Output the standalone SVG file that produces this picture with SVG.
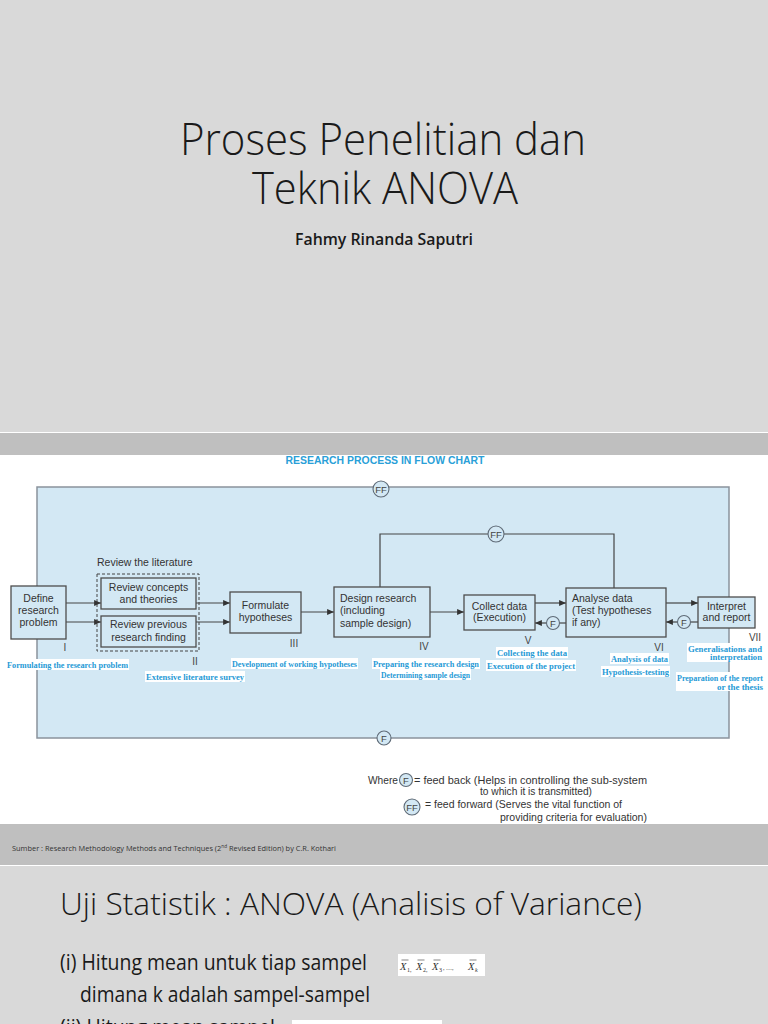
<svg xmlns="http://www.w3.org/2000/svg" width="768" height="1024" viewBox="0 0 768 1024">
<defs>
<marker id="ah" viewBox="0 0 8 7" refX="8" refY="3.5" markerWidth="7" markerHeight="6" markerUnits="userSpaceOnUse" orient="auto">
<path d="M0,0 L8,3.5 L0,7 z" fill="#333"/>
</marker>
<style>
.slide{font-family:"Open Sans","Liberation Sans",sans-serif;fill:#1a1a1a}
.box{fill:#d3e8f4;stroke:#4d4d4d;stroke-width:1.3}
.bt{font-family:"Liberation Sans",Arial,sans-serif;font-size:10.5px;fill:#333}
.num{font-family:"Liberation Sans",Arial,sans-serif;font-size:10px;fill:#444}
.ann{font-family:"Liberation Serif","Times New Roman",serif;font-weight:bold;font-size:8.5px;fill:#1f9ad6}
.annbg{fill:#ffffff}
.con{stroke:#444;stroke-width:1.2;fill:none}
.circ{fill:#d3e8f4;stroke:#5f6b77;stroke-width:1.1}
.ct{font-family:"Liberation Sans",Arial,sans-serif;font-size:9.5px;fill:#444;text-anchor:middle}
.leg{font-family:"Liberation Sans",Arial,sans-serif;font-size:10.5px;fill:#333}
.fx{font-family:"Liberation Serif","Times New Roman",serif;font-style:italic;font-size:10.5px;fill:#333}
.fs{font-family:"Liberation Serif","Times New Roman",serif;font-size:6px;fill:#333}
</style>
</defs>

<!-- slide backgrounds -->
<rect x="0" y="0" width="768" height="432" fill="#d9d9d9"/>
<rect x="0" y="432" width="768" height="1" fill="#ffffff"/>
<rect x="0" y="433" width="768" height="22" fill="#bfbfbf"/>
<rect x="0" y="455" width="768" height="369" fill="#ffffff"/>
<rect x="0" y="824" width="768" height="41" fill="#bfbfbf"/>
<rect x="0" y="865" width="768" height="1" fill="#ffffff"/>
<rect x="0" y="866" width="768" height="158" fill="#d9d9d9"/>

<!-- title slide -->
<text class="slide" x="383" y="155" font-size="45" font-weight="300" text-anchor="middle" textLength="406" lengthAdjust="spacingAndGlyphs">Proses Penelitian dan</text>
<text class="slide" x="385" y="204" font-size="45" font-weight="300" text-anchor="middle" textLength="266" lengthAdjust="spacingAndGlyphs">Teknik ANOVA</text>
<text class="slide" x="384" y="245" font-size="16" font-weight="600" text-anchor="middle" textLength="178" lengthAdjust="spacingAndGlyphs" fill="#262626">Fahmy Rinanda Saputri</text>

<!-- flow chart -->
<text x="385" y="464" font-family="Liberation Sans,Arial,sans-serif" font-size="10" font-weight="bold" fill="#2a9fd8" text-anchor="middle" textLength="199" lengthAdjust="spacingAndGlyphs">RESEARCH PROCESS IN FLOW CHART</text>
<rect x="37" y="487" width="692" height="251" fill="#d3e8f4" stroke="#8a939c" stroke-width="1.5"/>

<g id="connectors">
<line class="con" x1="66" y1="603" x2="101" y2="603" marker-end="url(#ah)"/>
<line class="con" x1="66" y1="622" x2="101" y2="622" marker-end="url(#ah)"/>
<line class="con" x1="196" y1="603" x2="230" y2="603" marker-end="url(#ah)"/>
<line class="con" x1="196" y1="622" x2="230" y2="622" marker-end="url(#ah)"/>
<line class="con" x1="301" y1="612" x2="334" y2="612" marker-end="url(#ah)"/>
<line class="con" x1="430" y1="612" x2="464" y2="612" marker-end="url(#ah)"/>
<line class="con" x1="535" y1="603" x2="566" y2="603" marker-end="url(#ah)"/>
<line class="con" x1="566" y1="623" x2="559.5" y2="623"/>
<line class="con" x1="546.5" y1="623" x2="535" y2="623" marker-end="url(#ah)"/>
<line class="con" x1="666" y1="603" x2="698" y2="603" marker-end="url(#ah)"/>
<line class="con" x1="698" y1="622" x2="690.5" y2="622"/>
<line class="con" x1="677.5" y1="622" x2="666" y2="622" marker-end="url(#ah)"/>
<polyline class="con" points="380,587 380,534 488,534"/>
<polyline class="con" points="504,534 614,534 614,588"/>
</g>

<g id="ff-top"><circle class="circ" cx="381" cy="489" r="8"/><text class="ct" x="381" y="492.5">FF</text></g>
<g id="ff-loop"><circle class="circ" cx="496" cy="534" r="8"/><text class="ct" x="496" y="537.5">FF</text></g>
<g id="f-bottom"><circle class="circ" cx="384" cy="738" r="7"/><text class="ct" x="384" y="741.5">F</text></g>
<g id="f-collect"><circle class="circ" cx="553" cy="623" r="6.5"/><text class="ct" x="553" y="626.5">F</text></g>
<g id="f-interpret"><circle class="circ" cx="684" cy="622" r="6.5"/><text class="ct" x="684" y="625.5">F</text></g>

<g id="define">
<rect class="box" x="11" y="586" width="55" height="53"/>
<text class="bt" text-anchor="middle"><tspan x="38.5" y="602">Define</tspan><tspan x="38.5" y="614">research</tspan><tspan x="38.5" y="626">problem</tspan></text>
<text class="num" x="65" y="651" text-anchor="middle">I</text>
</g>

<g id="review-lit">
<text class="bt" x="97" y="566">Review the literature</text>
<rect x="97" y="574" width="102" height="77" fill="none" stroke="#444" stroke-width="1" stroke-dasharray="3,2"/>
<text class="num" x="195" y="665" text-anchor="middle">II</text>
</g>

<g id="review-concepts">
<rect class="box" x="101" y="578" width="95" height="31"/>
<text class="bt" text-anchor="middle"><tspan x="148.5" y="591">Review concepts</tspan><tspan x="148.5" y="603">and theories</tspan></text>
</g>

<g id="review-previous">
<rect class="box" x="101" y="616" width="95" height="31"/>
<text class="bt" text-anchor="middle"><tspan x="148.5" y="628">Review previous</tspan><tspan x="148.5" y="641">research finding</tspan></text>
</g>

<g id="formulate">
<rect class="box" x="230" y="592" width="71" height="41"/>
<text class="bt" text-anchor="middle"><tspan x="265.5" y="609">Formulate</tspan><tspan x="265.5" y="621">hypotheses</tspan></text>
<text class="num" x="294" y="647" text-anchor="middle">III</text>
</g>

<g id="design">
<rect class="box" x="334" y="587" width="96" height="50"/>
<text class="bt"><tspan x="340" y="602">Design research</tspan><tspan x="340" y="614">(including</tspan><tspan x="340" y="627">sample design)</tspan></text>
<text class="num" x="424" y="650" text-anchor="middle">IV</text>
</g>

<g id="collect">
<rect class="box" x="464" y="595" width="71" height="35"/>
<text class="bt" text-anchor="middle"><tspan x="499.5" y="610">Collect data</tspan><tspan x="499.5" y="621">(Execution)</tspan></text>
<text class="num" x="528" y="644" text-anchor="middle">V</text>
</g>

<g id="analyse">
<rect class="box" x="566" y="588" width="100" height="49"/>
<text class="bt"><tspan x="572" y="602">Analyse data</tspan><tspan x="572" y="614">(Test hypotheses</tspan><tspan x="572" y="626">if any)</tspan></text>
<text class="num" x="659" y="651" text-anchor="middle">VI</text>
</g>

<g id="interpret">
<rect class="box" x="698" y="597" width="57" height="31"/>
<text class="bt" text-anchor="middle"><tspan x="726.5" y="610">Interpret</tspan><tspan x="726.5" y="621">and report</tspan></text>
<text class="num" x="755" y="641" text-anchor="middle">VII</text>
</g>

<!-- blue annotations -->
<g id="annotations">
<rect class="annbg" x="6" y="659" width="123" height="11"/>
<text class="ann" x="7" y="668" textLength="121" lengthAdjust="spacingAndGlyphs">Formulating the research problem</text>
<rect class="annbg" x="145" y="671" width="100" height="11"/>
<text class="ann" x="146" y="680" textLength="98" lengthAdjust="spacingAndGlyphs">Extensive literature survey</text>
<rect class="annbg" x="231" y="658" width="127" height="11"/>
<text class="ann" x="232" y="667" textLength="125" lengthAdjust="spacingAndGlyphs">Development of working hypotheses</text>
<rect class="annbg" x="372" y="658" width="108" height="11"/>
<text class="ann" x="373" y="667" textLength="106" lengthAdjust="spacingAndGlyphs">Preparing the research design</text>
<rect class="annbg" x="380" y="669" width="91" height="11"/>
<text class="ann" x="381" y="678" textLength="89" lengthAdjust="spacingAndGlyphs">Determining sample design</text>
<rect class="annbg" x="496" y="647" width="72" height="11"/>
<text class="ann" x="497" y="656" textLength="70" lengthAdjust="spacingAndGlyphs">Collecting the data</text>
<rect class="annbg" x="486" y="660" width="90" height="11"/>
<text class="ann" x="487" y="669" textLength="88" lengthAdjust="spacingAndGlyphs">Execution of the project</text>
<rect class="annbg" x="610" y="653" width="59" height="11"/>
<text class="ann" x="611" y="662" textLength="57" lengthAdjust="spacingAndGlyphs">Analysis of data</text>
<rect class="annbg" x="601" y="666" width="69" height="11"/>
<text class="ann" x="602" y="675" textLength="67" lengthAdjust="spacingAndGlyphs">Hypothesis-testing</text>
<rect class="annbg" x="687" y="643" width="76" height="19"/>
<text class="ann" x="762" y="652" text-anchor="end" textLength="74" lengthAdjust="spacingAndGlyphs">Generalisations and</text>
<text class="ann" x="762" y="660" text-anchor="end" textLength="52" lengthAdjust="spacingAndGlyphs">interpretation</text>
<rect class="annbg" x="676" y="672" width="88" height="19"/>
<text class="ann" x="763" y="681" text-anchor="end" textLength="86" lengthAdjust="spacingAndGlyphs">Preparation of the report</text>
<text class="ann" x="763" y="690" text-anchor="end" textLength="46" lengthAdjust="spacingAndGlyphs">or the thesis</text>
</g>

<!-- legend -->
<g id="legend">
<text class="leg" x="368" y="784" textLength="30" lengthAdjust="spacingAndGlyphs">Where</text>
<circle class="circ" cx="406" cy="780" r="6.5"/><text class="ct" x="406" y="783.5">F</text>
<text class="leg" x="414" y="784" textLength="233" lengthAdjust="spacingAndGlyphs">= feed back (Helps in controlling the sub-system</text>
<text class="leg" x="480" y="795" textLength="112" lengthAdjust="spacingAndGlyphs">to which it is transmitted)</text>
<circle class="circ" cx="412" cy="807" r="8"/><text class="ct" x="412" y="810.5">FF</text>
<text class="leg" x="425" y="808" textLength="197" lengthAdjust="spacingAndGlyphs">= feed forward (Serves the vital function of</text>
<text class="leg" x="500" y="821" textLength="147" lengthAdjust="spacingAndGlyphs">providing criteria for evaluation)</text>
</g>

<!-- source -->
<text x="12" y="851" font-family="Open Sans,Liberation Sans,sans-serif" font-size="7" fill="#333" textLength="324" lengthAdjust="spacingAndGlyphs">Sumber : Research Methodology Methods and Techniques (2<tspan font-size="4.5" dy="-3">nd</tspan><tspan dy="3"> Revised Edition) by C.R. Kothari</tspan></text>

<!-- ANOVA slide -->
<text class="slide" x="60" y="915" font-size="32" font-weight="300" textLength="582" lengthAdjust="spacingAndGlyphs">Uji Statistik : ANOVA (Analisis of Variance)</text>
<text class="slide" x="60" y="970" font-size="21" textLength="307" lengthAdjust="spacingAndGlyphs">(i) Hitung mean untuk tiap sampel</text>
<text class="slide" x="80" y="1002" font-size="21" textLength="290" lengthAdjust="spacingAndGlyphs">dimana k adalah sampel-sampel</text>
<text class="slide" x="60" y="1035" font-size="21" textLength="215" lengthAdjust="spacingAndGlyphs">(ii) Hitung mean sampel</text>
<g id="formula">
<rect x="398" y="954" width="87" height="22" fill="#ffffff"/>
<text class="fx" x="400" y="970">X</text><text class="fs" x="407" y="972">1,</text>
<text class="fx" x="416" y="970">X</text><text class="fs" x="423" y="972">2,</text>
<text class="fx" x="432" y="970">X</text><text class="fs" x="439" y="972">3</text>
<text class="fs" x="443" y="970" font-size="8">, …,</text>
<text class="fx" x="468" y="970">X</text><text class="fs" x="475" y="972" font-style="italic">k</text>
<g stroke="#333" stroke-width="0.6">
<line x1="401.5" y1="960" x2="408.5" y2="960"/>
<line x1="417.5" y1="960" x2="424.5" y2="960"/>
<line x1="433.5" y1="960" x2="440.5" y2="960"/>
<line x1="469.5" y1="960" x2="476.5" y2="960"/>
</g>
</g>
<rect x="292" y="1020" width="150" height="4" fill="#ffffff"/>
</svg>
